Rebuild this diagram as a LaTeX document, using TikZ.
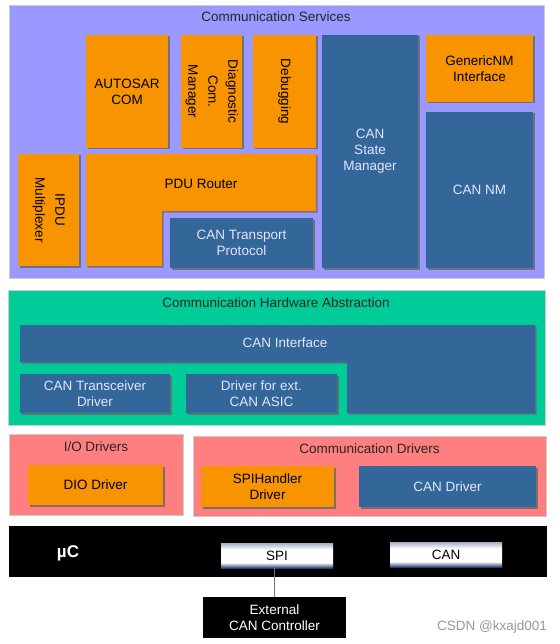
\documentclass[tikz,border=0pt]{standalone}
\usepackage{fontspec}
\setmainfont{Liberation Sans}
\usetikzlibrary{shadows}
\definecolor{svcviolet}{HTML}{9999FF}
\definecolor{swcorange}{HTML}{F79400}
\definecolor{canblue}{HTML}{336699}
\definecolor{hwgreen}{HTML}{00CC99}
\definecolor{drvpink}{HTML}{FF7F80}
\definecolor{chiptop}{HTML}{A4AEC6}
\definecolor{chipbot}{HTML}{2A3F6E}
\pgfdeclareverticalshading{chipshade}{100bp}{color(0bp)=(chipbot); color(25bp)=(chipbot); color(36bp)=(white); color(62bp)=(white); color(75bp)=(chiptop); color(100bp)=(chiptop)}

\begin{document}
\begin{tikzpicture} [x=1pt,y=-1pt,
		every node/.style={font=\fontsize{13.5}{16}\selectfont, align=center, inner sep=0pt},
		panel/.style={draw=black!20, line width=0.6pt},
		shade/.style={drop shadow={shadow xshift=1.5pt, shadow yshift=-1.5pt, fill=black!60, opacity=0.8}},
		obox/.style={shade, fill=swcorange},
		bbox/.style={shade, fill=canblue, text=white!90!blue},
		chip/.style={shading=chipshade, minimum width=112pt, minimum height=25pt},
		hdr/.style={text=black!85}]
	\useasboundingbox (0,0) rectangle (559,644);
	\fill[white] (0,0) rectangle (559,644);

	% communication services
	\node[panel, fill=svcviolet, minimum width=535pt, minimum height=273pt] (svc) at (276.5,141.5) {};
	\node[hdr] (svc-t) at (276,17) {Communication Services};
	\node[obox, minimum width=82pt, minimum height=113pt] (com) at (127,91.5) {AUTOSAR\\COM};
	\node[obox, minimum width=61pt, minimum height=113pt] (dcm) at (211.5,91.5) {\rotatebox{-90}{\begin{tabular}{@{}c@{}}Diagnostic\\[4pt]Com.\\[4pt]Manager\end{tabular}}};
	\node[obox, minimum width=63pt, minimum height=113pt] (dbg) at (284.5,91.5) {\rotatebox{-90}{Debugging}};
	\node[bbox, minimum width=96pt, minimum height=233pt] (cansm) at (370,151.5) {CAN\\State\\Manager};
	\node[obox, minimum width=107pt, minimum height=67pt] (gnm) at (479.5,68.5) {GenericNM\\Interface};
	\node[bbox, minimum width=107pt, minimum height=156pt] (cannm) at (479.5,190) {CAN NM};
	\node[obox, minimum width=61pt, minimum height=112pt] (ipdum) at (48.5,210) {\rotatebox{-90}{\begin{tabular}{@{}c@{}}IPDU\\[4pt]Multiplexer\end{tabular}}};
	\path[obox] (86,154) -- (316,154) -- (316,211) -- (162,211) -- (162,266) -- (86,266) -- cycle;
	\node (pdur) at (201,184) {PDU Router};
	\node[bbox, minimum width=143pt, minimum height=50pt] (cantp) at (241.5,243) {CAN Transport\\Protocol};

	% hardware abstraction
	\node[panel, fill=hwgreen, minimum width=537pt, minimum height=135pt] (hw) at (276.5,357.5) {};
	\node[hdr] (hw-t) at (276,303) {Communication Hardware Abstraction};
	\path[bbox] (20,325) -- (535,325) -- (535,413) -- (347,413) -- (347,362) -- (20,362) -- cycle;
	\node[text=white!90!blue] (canif) at (285,343) {CAN Interface};
	\node[bbox, minimum width=150pt, minimum height=39pt] (cantrcv) at (95,393.5) {CAN Transceiver\\Driver};
	\node[bbox, minimum width=151pt, minimum height=39pt] (extasic) at (261.5,393.5) {Driver for ext.\\CAN ASIC};

	% drivers
	\node[panel, fill=drvpink, minimum width=174pt, minimum height=81pt] (io) at (96,474.5) {};
	\node[hdr] (io-t) at (96,447) {I/O Drivers};
	\node[panel, fill=drvpink, minimum width=353pt, minimum height=80pt] (comdrv) at (369.5,476) {};
	\node[hdr] (comdrv-t) at (369.5,449) {Communication Drivers};
	\node[obox, minimum width=135pt, minimum height=40pt] (dio) at (95.5,485) {DIO Driver};
	\node[obox, minimum width=133pt, minimum height=41pt] (spihnd) at (267.5,486.5) {SPIHandler\\Driver};
	\node[bbox, minimum width=177pt, minimum height=41pt] (candrv) at (447.5,486.5) {CAN Driver};

	% microcontroller
	\node[fill=black, minimum width=538pt, minimum height=51pt] (mcu) at (278,551.5) {};
	\node[text=white, font=\fontsize{17}{20}\selectfont\bfseries] (mcu-t) at (68,553) {µC};
	\foreach \n/\x/\y/\t in {spi/277/555.5/SPI, can/446/554.5/CAN}{%
		\node[chip] (\n) at (\x,\y) {\t};
	}
	\node[fill=black, text=white, minimum width=143pt, minimum height=41pt] (ext) at (274.5,617.5) {External\\CAN Controller};
	\draw[black!55, line width=1pt] (ext.north) -- (ext.north |- spi.south);

	\node[text=black!40] (mark) at (492,627) {CSDN @kxajd001};
\end{tikzpicture}
\end{document}
